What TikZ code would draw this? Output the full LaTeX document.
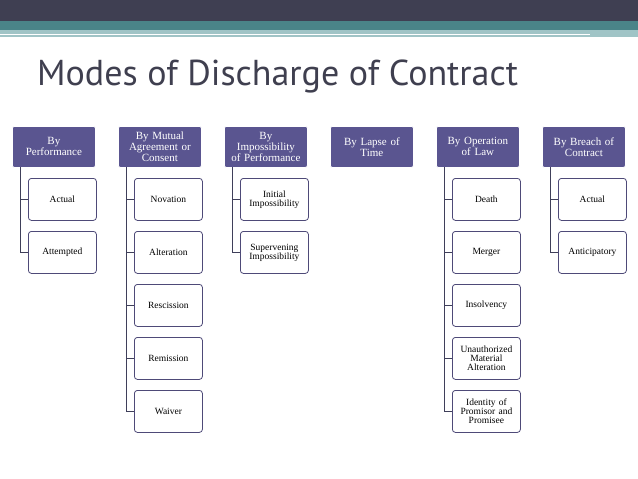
\documentclass[tikz,border=0pt]{standalone}
\usepackage{fontspec}
\setmainfont{Liberation Serif}
\newfontfamily\titlefont{PT Sans}
\begin{document}
\begin{tikzpicture}[x=1pt,y=-1pt,
  par/.style={fill=ptop,draw=white,line width=0.8pt,rounded corners=2pt,minimum width=83pt,minimum height=41pt,text width=82pt,align=center,text=white,font=\fontsize{11}{11}\selectfont,anchor=north west,inner sep=0.5pt},
  kid/.style={fill=white,draw=pbord,line width=0.8pt,rounded corners=3pt,minimum width=68pt,minimum height=42pt,text width=66pt,align=center,font=\fontsize{9.5}{9}\selectfont,anchor=north west,inner sep=0.5pt},
  con/.style={draw=pline,line width=1pt}]
\definecolor{ptop}{HTML}{5A5590}
\definecolor{pbord}{HTML}{4E4A78}
\definecolor{pline}{HTML}{3F3F5A}
\useasboundingbox (0,0) rectangle (638,479);
\fill[fill={rgb,255:red,63;green,63;blue,82}] (0,0) rectangle (638,21);
\fill[fill={rgb,255:red,74;green,132;blue,136}] (0,21) rectangle (638,30);
\fill[fill={rgb,255:red,160;green,196;blue,198}] (0,30) rectangle (638,37);
\draw[white,line width=1pt] (0,34) -- (590,34);
\node[anchor=base west,inner sep=0,text={rgb,255:red,63;green,63;blue,79},font=\titlefont\fontsize{36}{36}\selectfont] (title) at (37,85) {Modes of Discharge of Contract};
\foreach \i/\t in {0/{By\\Performance},1/{By Mutual\\Agreement or\\Consent},2/{By\\Impossibility\\of Performance},3/{By Lapse of\\Time},4/{By Operation\\of Law},5/{By Breach of\\Contract}}{
  \node[par] (p\i) at (12+106*\i,126) {\t};
  \coordinate (s\i) at (20+106*\i,167);
}
\newcommand\kidbox[4]{% col, row, name, text
  \node[kid] (#3) at (28+106*#1,178+53*#2) {#4};
  \draw[con] (s#1) |- (#3.west);}
\kidbox{0}{0}{a1}{Actual}
\kidbox{0}{1}{a2}{Attempted}
\kidbox{1}{0}{b1}{Novation}
\kidbox{1}{1}{b2}{Alteration}
\kidbox{1}{2}{b3}{Rescission}
\kidbox{1}{3}{b4}{Remission}
\kidbox{1}{4}{b5}{Waiver}
\kidbox{2}{0}{c1}{Initial\\Impossibility}
\kidbox{2}{1}{c2}{Supervening\\Impossibility}
\kidbox{4}{0}{e1}{Death}
\kidbox{4}{1}{e2}{Merger}
\kidbox{4}{2}{e3}{Insolvency}
\kidbox{4}{3}{e4}{Unauthorized\\Material\\Alteration}
\kidbox{4}{4}{e5}{Identity of\\Promisor and\\Promisee}
\kidbox{5}{0}{f1}{Actual}
\kidbox{5}{1}{f2}{Anticipatory}
\end{tikzpicture}
\end{document}
